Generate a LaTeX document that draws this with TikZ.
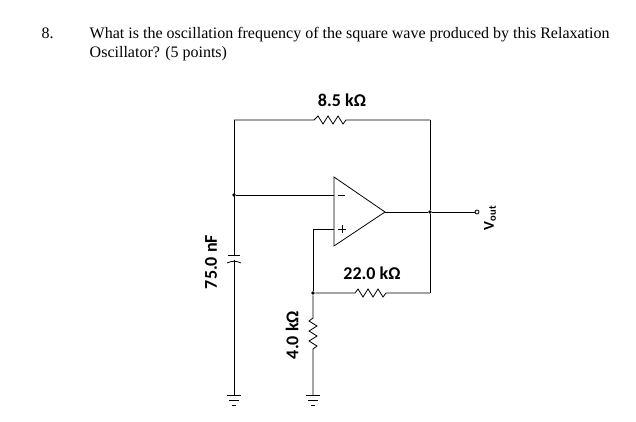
\documentclass[tikz,border=0pt]{standalone}
\usepackage{fontspec}
\setmainfont{Liberation Serif}
\newfontfamily\lab{Carlito}
\usetikzlibrary{calc}
\begin{document}
\begin{tikzpicture}[x=1pt,y=-1pt,line width=0.8pt,
  lbl/.style={font=\lab\bfseries\fontsize{18}{20}\selectfont},
  dot/.style={circle,fill,inner sep=1.4pt}]
\useasboundingbox (0,0) rectangle (636,422);
\node[anchor=base west,font=\fontsize{16}{18}\selectfont] (n8) at (38,39) {8.};
\node[anchor=base west,font=\fontsize{16}{18}\selectfont,align=left] (q) at (86,39) {What is the oscillation frequency of the square wave produced by this Relaxation};
\node[anchor=base west,font=\fontsize{16}{18}\selectfont] (q2) at (86,58) {Oscillator? (5 points)};
\coordinate (tl) at (234,120);
\coordinate (tr) at (430,120);
\node[dot] (jm) at (234,195) {};
\node[dot] (jo) at (430,212) {};
\node[dot] (jp) at (313,293) {};
\coordinate (br) at (430,293);
\coordinate (r1a) at (314,120);
\coordinate (r1b) at (350,120);
\draw (tl) -- (r1a) -- ++(4,-4) -- ++(5,8) -- ++(5,-8) -- ++(5,8) -- ++(5,-8) -- ++(5,8) -- ++(3,-4) -- (r1b) -- (tr);
\node[lbl] (l1) at (342,100) {8.5 kΩ};
\draw (tl) -- (234,255);
\draw (228,255) -- (240,255);
\draw (227,263) to[bend left=25] (241,263);
\draw (234,260) -- (234,395);
\node[lbl,rotate=90] (lc) at (211,262) {75.0 nF};
\draw (227,395) -- (241,395) (229,400) -- (239,400) (232,405) -- (236,405);
\draw (334,177) -- (385,212) -- (334,246) -- cycle;
\draw (jm) -- (334,195);
\draw (338,195) -- (345,195);
\draw (338,229) -- (346,229) (342,225) -- (342,233);
\draw (385,212) -- (jo) -- (475,212);
\draw[fill=white] (477,212) circle (2pt);
\node[rotate=90,font=\lab\bfseries\fontsize{15}{17}\selectfont] (vo) at (490,218) {V\textsubscript{out}};
\draw (tr) -- (jo) -- (br);
\draw (334,229) -- (313,229) -- (jp);
\draw (jp) -- (355,293) -- ++(3,-4) -- ++(5,8) -- ++(5,-8) -- ++(5,8) -- ++(5,-8) -- ++(5,8) -- ++(3,-4) -- (br);
\node[lbl] (l2) at (372,273) {22.0 kΩ};
\draw (jp) -- (313,318) -- ++(-4,3) -- ++(8,5) -- ++(-8,5) -- ++(8,5) -- ++(-8,5) -- ++(8,5) -- ++(-4,3) -- (313,395);
\node[lbl,rotate=90] (l3) at (292,335) {4.0 kΩ};
\draw (306,395) -- (320,395) (308,400) -- (318,400) (311,405) -- (315,405);
\end{tikzpicture}
\end{document}
